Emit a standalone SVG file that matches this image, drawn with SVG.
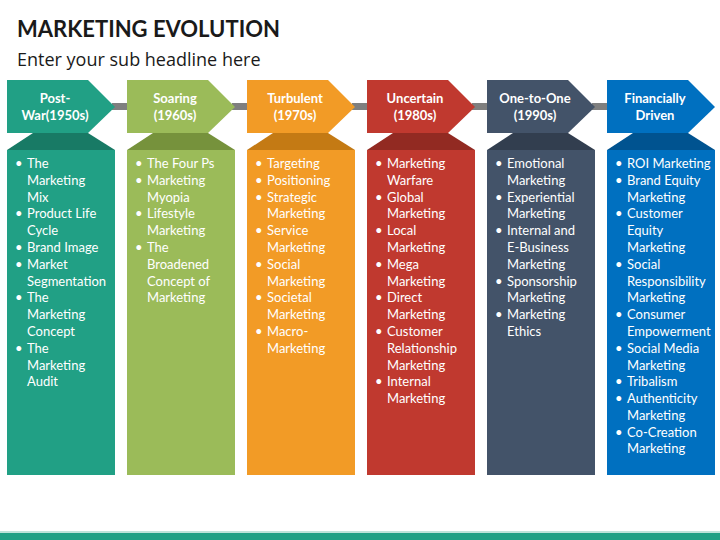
<svg xmlns="http://www.w3.org/2000/svg" width="720" height="540" viewBox="0 0 720 540">
<style>
text{font-family:Lato,"Open Sans","Liberation Sans",sans-serif;}
.h{font-weight:bold;font-size:13px;fill:#fff;text-anchor:middle}
.b{font-size:13px;fill:#fff}
.bar{fill:#7f7f7f}
</style>
<rect width="720" height="540" fill="#fff"/>
<text x="17" y="37" font-size="22" font-weight="bold" fill="#1a1a1a">MARKETING EVOLUTION</text>
<text x="17" y="66" font-size="18" fill="#1a1a1a" style="font-family:'Open Sans',sans-serif">Enter your sub headline here</text>
<g id="connectors">
<rect class="bar" x="112" y="103" width="18" height="7"/>
<rect class="bar" x="232" y="103" width="18" height="7"/>
<rect class="bar" x="352" y="103" width="18" height="7"/>
<rect class="bar" x="472" y="103" width="18" height="7"/>
<rect class="bar" x="592" y="103" width="18" height="7"/>
</g>
<defs>
<g id="shape">
<path d="M0 80H81L108 107L81 133H0Z"/>
<rect x="0" y="150" width="108" height="325"/>
</g>
</defs>
<g id="c1" transform="translate(7,0)">
<g fill="#21A085"><use href="#shape"/></g>
<path d="M26 133H81L108 150H0Z" fill="#187A65"/>
<text class="h" x="48" y="103">Post-</text><text class="h" x="48" y="120">War(1950s)</text>
<text class="b"><tspan x="8" y="168">•</tspan><tspan x="20">The</tspan><tspan x="20" y="185">Marketing</tspan><tspan x="20" y="202">Mix</tspan><tspan x="8" y="218">•</tspan><tspan x="20">Product Life</tspan><tspan x="20" y="235">Cycle</tspan><tspan x="8" y="252">•</tspan><tspan x="20">Brand Image</tspan><tspan x="8" y="269">•</tspan><tspan x="20">Market</tspan><tspan x="20" y="286">Segmentation</tspan><tspan x="8" y="302">•</tspan><tspan x="20">The</tspan><tspan x="20" y="319">Marketing</tspan><tspan x="20" y="336">Concept</tspan><tspan x="8" y="353">•</tspan><tspan x="20">The</tspan><tspan x="20" y="370">Marketing</tspan><tspan x="20" y="386">Audit</tspan></text>
</g>
<g id="c2" transform="translate(127,0)">
<g fill="#9BBB59"><use href="#shape"/></g>
<path d="M26 133H81L108 150H0Z" fill="#76923C"/>
<text class="h" x="48" y="103">Soaring</text><text class="h" x="48" y="120">(1960s)</text>
<text class="b"><tspan x="8" y="168">•</tspan><tspan x="20">The Four Ps</tspan><tspan x="8" y="185">•</tspan><tspan x="20">Marketing</tspan><tspan x="20" y="202">Myopia</tspan><tspan x="8" y="218">•</tspan><tspan x="20">Lifestyle</tspan><tspan x="20" y="235">Marketing</tspan><tspan x="8" y="252">•</tspan><tspan x="20">The</tspan><tspan x="20" y="269">Broadened</tspan><tspan x="20" y="286">Concept of</tspan><tspan x="20" y="302">Marketing</tspan></text>
</g>
<g id="c3" transform="translate(247,0)">
<g fill="#F29B26"><use href="#shape"/></g>
<path d="M26 133H81L108 150H0Z" fill="#C47A14"/>
<text class="h" x="48" y="103">Turbulent</text><text class="h" x="48" y="120">(1970s)</text>
<text class="b"><tspan x="8" y="168">•</tspan><tspan x="20">Targeting</tspan><tspan x="8" y="185">•</tspan><tspan x="20">Positioning</tspan><tspan x="8" y="202">•</tspan><tspan x="20">Strategic</tspan><tspan x="20" y="218">Marketing</tspan><tspan x="8" y="235">•</tspan><tspan x="20">Service</tspan><tspan x="20" y="252">Marketing</tspan><tspan x="8" y="269">•</tspan><tspan x="20">Social</tspan><tspan x="20" y="286">Marketing</tspan><tspan x="8" y="302">•</tspan><tspan x="20">Societal</tspan><tspan x="20" y="319">Marketing</tspan><tspan x="8" y="336">•</tspan><tspan x="20">Macro-</tspan><tspan x="20" y="353">Marketing</tspan></text>
</g>
<g id="c4" transform="translate(367,0)">
<g fill="#C0392F"><use href="#shape"/></g>
<path d="M26 133H81L108 150H0Z" fill="#922A22"/>
<text class="h" x="48" y="103">Uncertain</text><text class="h" x="48" y="120">(1980s)</text>
<text class="b"><tspan x="8" y="168">•</tspan><tspan x="20">Marketing</tspan><tspan x="20" y="185">Warfare</tspan><tspan x="8" y="202">•</tspan><tspan x="20">Global</tspan><tspan x="20" y="218">Marketing</tspan><tspan x="8" y="235">•</tspan><tspan x="20">Local</tspan><tspan x="20" y="252">Marketing</tspan><tspan x="8" y="269">•</tspan><tspan x="20">Mega</tspan><tspan x="20" y="286">Marketing</tspan><tspan x="8" y="302">•</tspan><tspan x="20">Direct</tspan><tspan x="20" y="319">Marketing</tspan><tspan x="8" y="336">•</tspan><tspan x="20">Customer</tspan><tspan x="20" y="353">Relationship</tspan><tspan x="20" y="370">Marketing</tspan><tspan x="8" y="386">•</tspan><tspan x="20">Internal</tspan><tspan x="20" y="403">Marketing</tspan></text>
</g>
<g id="c5" transform="translate(487,0)">
<g fill="#435369"><use href="#shape"/></g>
<path d="M26 133H81L108 150H0Z" fill="#323E4F"/>
<text class="h" x="48" y="103">One-to-One</text><text class="h" x="48" y="120">(1990s)</text>
<text class="b"><tspan x="8" y="168">•</tspan><tspan x="20">Emotional</tspan><tspan x="20" y="185">Marketing</tspan><tspan x="8" y="202">•</tspan><tspan x="20">Experiential</tspan><tspan x="20" y="218">Marketing</tspan><tspan x="8" y="235">•</tspan><tspan x="20">Internal and</tspan><tspan x="20" y="252">E-Business</tspan><tspan x="20" y="269">Marketing</tspan><tspan x="8" y="286">•</tspan><tspan x="20">Sponsorship</tspan><tspan x="20" y="302">Marketing</tspan><tspan x="8" y="319">•</tspan><tspan x="20">Marketing</tspan><tspan x="20" y="336">Ethics</tspan></text>
</g>
<g id="c6" transform="translate(607,0)">
<g fill="#0070C0"><use href="#shape"/></g>
<path d="M26 133H81L108 150H0Z" fill="#005390"/>
<text class="h" x="48" y="103">Financially</text><text class="h" x="48" y="120">Driven</text>
<text class="b"><tspan x="8" y="168">•</tspan><tspan x="20">ROI Marketing</tspan><tspan x="8" y="185">•</tspan><tspan x="20">Brand Equity</tspan><tspan x="20" y="202">Marketing</tspan><tspan x="8" y="218">•</tspan><tspan x="20">Customer</tspan><tspan x="20" y="235">Equity</tspan><tspan x="20" y="252">Marketing</tspan><tspan x="8" y="269">•</tspan><tspan x="20">Social</tspan><tspan x="20" y="286">Responsibility</tspan><tspan x="20" y="302">Marketing</tspan><tspan x="8" y="319">•</tspan><tspan x="20">Consumer</tspan><tspan x="20" y="336">Empowerment</tspan><tspan x="8" y="353">•</tspan><tspan x="20">Social Media</tspan><tspan x="20" y="370">Marketing</tspan><tspan x="8" y="386">•</tspan><tspan x="20">Tribalism</tspan><tspan x="8" y="403">•</tspan><tspan x="20">Authenticity</tspan><tspan x="20" y="420">Marketing</tspan><tspan x="8" y="437">•</tspan><tspan x="20">Co-Creation</tspan><tspan x="20" y="453">Marketing</tspan></text>
</g>
<rect x="0" y="531" width="720" height="2" fill="#bfe3da"/>
<rect x="0" y="533" width="720" height="7" fill="#21A085"/>
</svg>
